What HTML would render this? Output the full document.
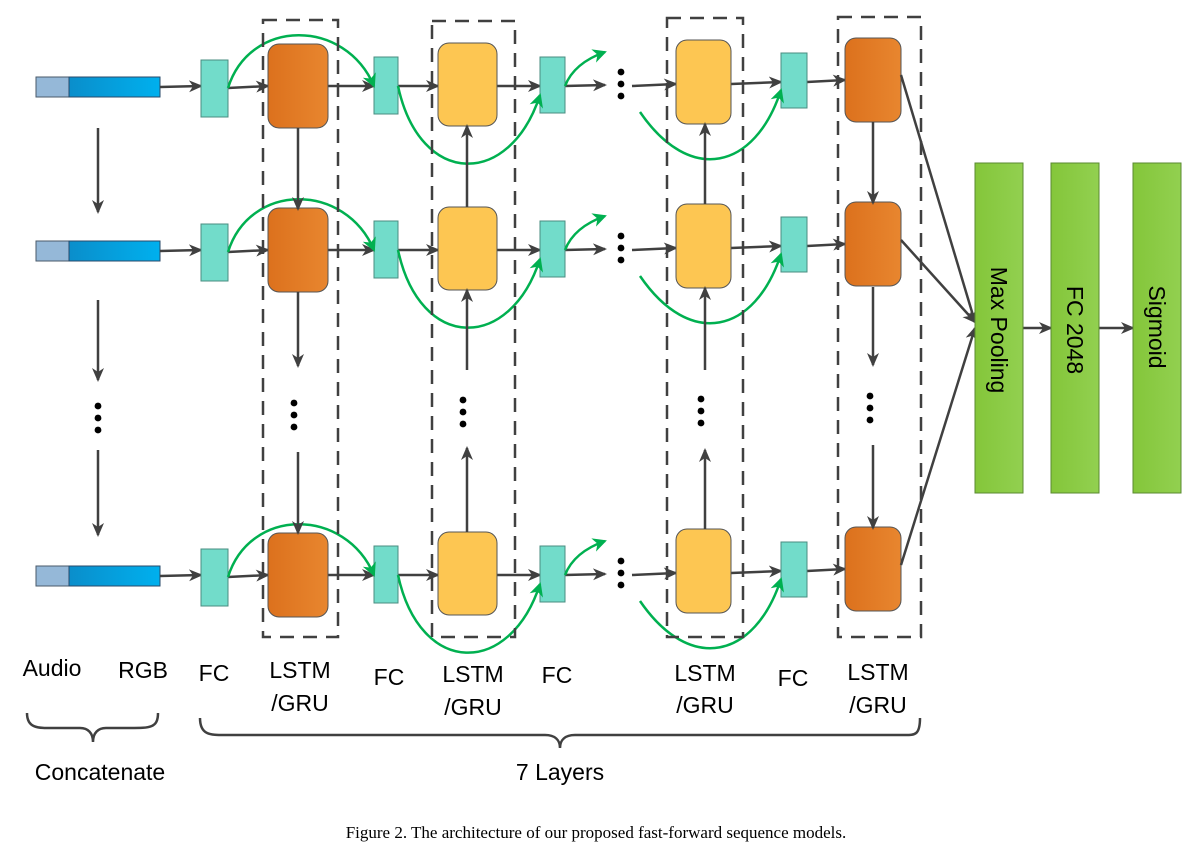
<!DOCTYPE html>
<html><head><meta charset="utf-8"><style>
body{margin:0;background:#fff;width:1198px;height:855px;overflow:hidden}
svg{display:block}
.l{font-family:"Liberation Sans",sans-serif;font-size:23px;fill:#000;text-anchor:middle}
</style></head><body>
<svg width="1198" height="855" viewBox="0 0 1198 855">
<defs>
<marker id="a" markerWidth="14" markerHeight="14" refX="12" refY="7" orient="auto" markerUnits="userSpaceOnUse"><path d="M0,1 L14,7 L0,13 L4,7z" fill="#404040"/></marker>
<marker id="g" markerWidth="14" markerHeight="14" refX="12" refY="7" orient="auto" markerUnits="userSpaceOnUse"><path d="M0,0 L14,7 L0,14 L4,7z" fill="#00b050"/></marker>
<linearGradient id="bl" x1="0" x2="1"><stop offset="0" stop-color="#0a8ecb"/><stop offset="1" stop-color="#00b0ee"/></linearGradient>
<linearGradient id="or" x1="0" x2="1"><stop offset="0" stop-color="#dc711d"/><stop offset="1" stop-color="#e8862f"/></linearGradient>
<linearGradient id="gr" x1="0" x2="1"><stop offset="0" stop-color="#84c63a"/><stop offset="1" stop-color="#92d050"/></linearGradient>
<g id="row">
<rect x="36" y="77" width="33" height="20" fill="#95b8d8" stroke="#4a5a6a"/>
<rect x="69" y="77" width="91" height="20" fill="url(#bl)" stroke="#2a4a6a"/>
<g stroke="#404040" stroke-width="2.5" fill="none" marker-end="url(#a)">
<path d="M160,87 L201,86"/><path d="M228,88 L268,86"/><path d="M328,86 L374,86"/><path d="M398,86 L438,86"/><path d="M497,86 L540,86"/><path d="M565,86 L605,85"/><path d="M632,86 L676,84"/><path d="M731,84 L781,82"/><path d="M807,82 L845,80"/>
</g>
<rect x="201" y="60" width="27" height="57" fill="#72dcca" stroke="#4a8c80"/>
<rect x="268" y="44" width="60" height="84" rx="11" fill="url(#or)" stroke="#555"/>
<rect x="374" y="57" width="24" height="57" fill="#72dcca" stroke="#4a8c80"/>
<rect x="438" y="43" width="59" height="83" rx="11" fill="#fdc652" stroke="#555"/>
<rect x="540" y="57" width="25" height="56" fill="#72dcca" stroke="#4a8c80"/>
<circle cx="621" cy="72" r="3.4"/><circle cx="621" cy="84" r="3.4"/><circle cx="621" cy="96" r="3.4"/>
<rect x="676" y="40" width="55" height="84" rx="11" fill="#fdc652" stroke="#555"/>
<rect x="781" y="53" width="26" height="55" fill="#72dcca" stroke="#4a8c80"/>
<rect x="845" y="38" width="56" height="84" rx="11" fill="url(#or)" stroke="#555"/>
<g stroke="#00b050" stroke-width="2.5" fill="none" marker-end="url(#g)">
<path d="M228,88 C250,18 345,18 374,86"/>
<path d="M398,86 C420,188 510,188 540,95"/>
<path d="M565,86 C572,68 588,58 605,52"/>
<path d="M640,112 C690,185 755,170 781,90"/>
</g>
</g>
</defs>
<use href="#row"/>
<use href="#row" y="164"/>
<use href="#row" y="489"/>
<g fill="none" stroke="#404040" stroke-width="2.5" stroke-dasharray="14,9">
<rect x="263" y="20" width="75" height="617"/>
<rect x="432" y="21" width="83" height="616"/>
<rect x="667" y="18" width="76" height="619"/>
<rect x="838" y="17" width="83" height="620"/>
</g>
<g stroke="#404040" stroke-width="2.5" fill="none" marker-end="url(#a)">
<path d="M98,128 L98,212"/><path d="M98,300 L98,380"/><path d="M98,450 L98,535"/>
<path d="M298,128 L298,209"/><path d="M298,292 L298,366"/><path d="M298,452 L298,533"/>
<path d="M467,207 L467,126"/><path d="M467,370 L467,290"/><path d="M467,532 L467,448"/>
<path d="M705,204 L705,124"/><path d="M705,370 L705,288"/><path d="M705,529 L705,450"/>
<path d="M873,122 L873,203"/><path d="M873,287 L873,365"/><path d="M873,445 L873,528"/>
<path d="M901,75 L975,322"/><path d="M901,240 L975,322"/><path d="M901,565 L975,328"/>
<path d="M1023,328 L1051,328"/><path d="M1099,328 L1133,328"/>
</g>
<g>
<circle cx="98" cy="406" r="3.4"/><circle cx="98" cy="418" r="3.4"/><circle cx="98" cy="430" r="3.4"/>
<circle cx="294" cy="403" r="3.4"/><circle cx="294" cy="415" r="3.4"/><circle cx="294" cy="427" r="3.4"/>
<circle cx="463" cy="400" r="3.4"/><circle cx="463" cy="412" r="3.4"/><circle cx="463" cy="424" r="3.4"/>
<circle cx="701" cy="399" r="3.4"/><circle cx="701" cy="411" r="3.4"/><circle cx="701" cy="423" r="3.4"/>
<circle cx="870" cy="396" r="3.4"/><circle cx="870" cy="408" r="3.4"/><circle cx="870" cy="420" r="3.4"/>
</g>
<rect x="975" y="163" width="48" height="330" fill="url(#gr)" stroke="#5a8a30"/>
<rect x="1051" y="163" width="48" height="330" fill="url(#gr)" stroke="#5a8a30"/>
<rect x="1133" y="163" width="48" height="330" fill="url(#gr)" stroke="#5a8a30"/>
<text class="l" transform="translate(991,330) rotate(90)">Max Pooling</text>
<text class="l" transform="translate(1067,330) rotate(90)">FC 2048</text>
<text class="l" transform="translate(1149,327) rotate(90)">Sigmoid</text>
<text class="l" x="52" y="676">Audio</text>
<text class="l" x="143" y="678">RGB</text>
<text class="l" x="214" y="681">FC</text>
<text class="l" x="300" y="678">LSTM</text><text class="l" x="300" y="711">/GRU</text>
<text class="l" x="389" y="685">FC</text>
<text class="l" x="473" y="682">LSTM</text><text class="l" x="473" y="715">/GRU</text>
<text class="l" x="557" y="683">FC</text>
<text class="l" x="705" y="681">LSTM</text><text class="l" x="705" y="713">/GRU</text>
<text class="l" x="793" y="686">FC</text>
<text class="l" x="878" y="680">LSTM</text><text class="l" x="878" y="713">/GRU</text>
<g fill="none" stroke="#404040" stroke-width="2.5">
<path d="M27,713 C27,730 40,728 60,728 L80,728 C88,728 93,733 93,742 C93,733 98,728 106,728 L130,728 C150,728 158,728 158,713"/>
<path d="M200,718 C200,735 210,735 225,735 L545,735 C555,735 560,740 560,748 C560,740 565,735 575,735 L905,735 C915,735 920,735 920,718"/>
</g>
<text class="l" x="100" y="780">Concatenate</text>
<text class="l" x="560" y="780">7 Layers</text>
<text x="596" y="838" text-anchor="middle" style="font-family:'Liberation Serif',serif;font-size:17px">Figure 2. The architecture of our proposed fast-forward sequence models.</text>
</svg>
</body></html>
